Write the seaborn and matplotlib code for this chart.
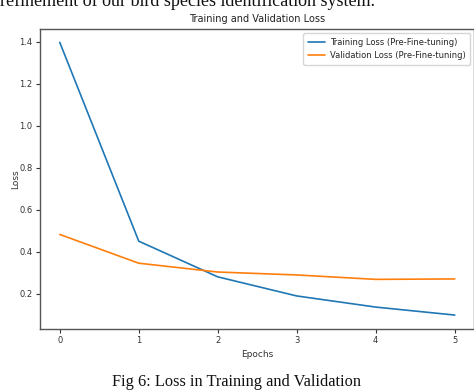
import matplotlib
matplotlib.use("Agg")
import matplotlib.pyplot as plt
import seaborn as sns
import pandas as pd

epochs = [0, 1, 2, 3, 4, 5]
train_loss = [1.397, 0.450, 0.280, 0.189, 0.136, 0.098]
val_loss = [0.482, 0.345, 0.303, 0.289, 0.268, 0.270]
series_names = ["Training Loss (Pre-Fine-tuning)", "Validation Loss (Pre-Fine-tuning)"]
title = "Training and Validation Loss"
xlabel = "Epochs"
ylabel = "Loss"
caption = "Fig 6: Loss in Training and Validation"
top_text = "refinement of our bird species identification system."

sns.set_style("ticks")
plt.rcParams['font.family'] = ['DejaVu Sans']

df = pd.DataFrame({
    "epoch": epochs * 2,
    "loss": train_loss + val_loss,
    "series": [series_names[0]] * len(epochs) + [series_names[1]] * len(epochs),
})

fig = plt.figure(figsize=(4.74, 3.90), dpi=100)
ax = fig.add_axes([40 / 474, 1 - 328.7 / 390, 434.5 / 474, 300 / 390])
sns.lineplot(data=df, x="epoch", y="loss", hue="series",
             palette=["#1f77b4", "#ff7f0e"], linewidth=1.2, ax=ax)

ax.set_xticks(epochs)
ax.set_yticks([0.2, 0.4, 0.6, 0.8, 1.0, 1.2, 1.4])
ax.tick_params(labelsize=6, length=3, width=0.8, colors="#333333", pad=2.5)
for s in ax.spines.values():
    s.set_color("#555555")
    s.set_linewidth(1.0)
ax.set_xlabel(xlabel, fontsize=6.5, color="#333333", labelpad=3)
ax.set_ylabel(ylabel, fontsize=6.5, color="#333333", labelpad=-1)
ax.set_title(title, fontsize=7, color="#222222", pad=5)
leg = ax.legend(loc="upper right", fontsize=6, frameon=True, handlelength=2.0,
                borderpad=0.6, labelspacing=0.5, handletextpad=0.6)
leg.get_frame().set_edgecolor("#cccccc")

fig.text(0.0, 1 - 6 / 390, top_text, family=["Liberation Serif", "DejaVu Serif"],
         fontsize=13, ha="left", va="baseline", color="#111111")
fig.text(0.5, 1 - 386 / 390, caption, family=["Liberation Serif", "DejaVu Serif"],
         fontsize=11.8, ha="center", va="baseline", color="#111111")

fig.savefig("out.png", dpi=100)
